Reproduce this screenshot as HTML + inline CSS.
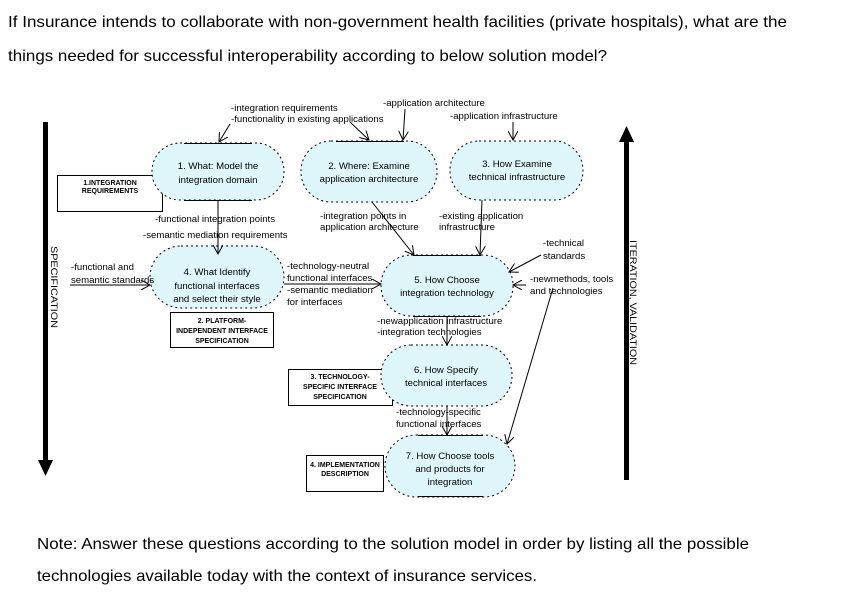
<!DOCTYPE html>
<html><head><meta charset="utf-8"><style>
html,body{margin:0;padding:0;background:#fff;}
svg{display:block;}
text{font-family:"Liberation Sans",Arial,sans-serif;fill:#000;}
.s{font-size:9.6px;}
.b{font-size:7px;font-weight:bold;}
.h{font-size:16px;}
</style></head><body>
<svg width="842" height="605" viewBox="0 0 842 605" xmlns="http://www.w3.org/2000/svg">
<defs>
<marker id="a" markerWidth="10" markerHeight="10" refX="9" refY="5" orient="auto" markerUnits="userSpaceOnUse">
<path d="M0,0 L9,5 L0,10" fill="none" stroke="#000" stroke-width="1"/></marker>
</defs>
<text class="h" x="8" y="27" textLength="779" lengthAdjust="spacingAndGlyphs">If Insurance intends to collaborate with non-government health facilities (private hospitals), what are the</text>
<text class="h" x="8" y="61" textLength="599" lengthAdjust="spacingAndGlyphs">things needed for successful interoperability according to below solution model?</text>
<text class="h" x="37" y="549" textLength="712" lengthAdjust="spacingAndGlyphs">Note: Answer these questions according to the solution model in order by listing all the possible</text>
<text class="h" x="37" y="581" textLength="500" lengthAdjust="spacingAndGlyphs">technologies available today with the context of insurance services.</text>

<rect x="43" y="122" width="5" height="340" fill="#000"/>
<path d="M38,460 L53,460 L45.5,476 Z" fill="#000"/>
<rect x="624" y="140" width="5" height="340" fill="#000"/>
<path d="M619,142 L634,142 L626.5,126 Z" fill="#000"/>
<text class="s" transform="translate(51,246) rotate(90)" textLength="82" lengthAdjust="spacingAndGlyphs">SPECIFICATION</text>
<text class="s" transform="translate(630,240) rotate(90)" textLength="125" lengthAdjust="spacingAndGlyphs">ITERATION, VALIDATION</text>

<g fill="#fff" stroke="#000" stroke-width="1">
<rect x="57.5" y="175.5" width="105" height="36"/>
<rect x="170.5" y="312.5" width="103" height="35"/>
<rect x="288.5" y="369.5" width="104" height="36"/>
<rect x="306.5" y="455.5" width="77" height="36"/>
</g>
<text class="b" x="110" y="185" text-anchor="middle">1.INTEGRATION</text>
<text class="b" x="110" y="193" text-anchor="middle">REQUIREMENTS</text>
<text class="b" x="222" y="323" text-anchor="middle">2. PLATFORM-</text>
<text class="b" x="222" y="333" text-anchor="middle">INDEPENDENT INTERFACE</text>
<text class="b" x="222" y="343" text-anchor="middle">SPECIFICATION</text>
<text class="b" x="340" y="379" text-anchor="middle">3. TECHNOLOGY-</text>
<text class="b" x="340" y="389" text-anchor="middle">SPECIFIC INTERFACE</text>
<text class="b" x="340" y="399" text-anchor="middle">SPECIFICATION</text>
<text class="b" x="345" y="467" text-anchor="middle">4. IMPLEMENTATION</text>
<text class="b" x="345" y="476" text-anchor="middle">DESCRIPTION</text>

<g fill="#dff6fa" stroke="#000" stroke-width="1" stroke-dasharray="2,3">
<rect x="152" y="143" width="132" height="57" rx="28"/>
<rect x="301" y="141" width="136" height="61" rx="30"/>
<rect x="450" y="141" width="133" height="59" rx="29"/>
<rect x="150" y="246" width="134" height="62" rx="31"/>
<rect x="381" y="255" width="132" height="61" rx="30"/>
<rect x="381" y="345" width="131" height="61" rx="30"/>
<rect x="385" y="435" width="130" height="62" rx="31"/>
</g>
<g stroke="#000" stroke-width="1">
<line x1="184" y1="143.5" x2="252" y2="143.5"/>
<line x1="336" y1="141.5" x2="404" y2="141.5"/>
<line x1="184" y1="200.5" x2="252" y2="200.5"/>
<line x1="413" y1="255.5" x2="481" y2="255.5"/>
<line x1="413" y1="316.5" x2="481" y2="316.5"/>
<line x1="418" y1="435.5" x2="483" y2="435.5"/>
<line x1="418" y1="496.5" x2="483" y2="496.5"/>
</g>
<g class="s" text-anchor="middle">
<text x="218" y="169">1. What: Model the</text><text x="218" y="183">integration domain</text>
<text x="369" y="169">2. Where: Examine</text><text x="369" y="182">application architecture</text>
<text x="517" y="167">3. How Examine</text><text x="517" y="180">technical infrastructure</text>
<text x="217" y="275">4. What Identify</text><text x="217" y="289">functional interfaces</text><text x="217" y="302">and select their style</text>
<text x="447" y="283">5. How Choose</text><text x="447" y="296">integration technology</text>
<text x="446" y="373">6. How Specify</text><text x="446" y="386">technical interfaces</text>
<text x="450" y="459">7. How Choose tools</text><text x="450" y="472">and products for</text><text x="450" y="485">integration</text>
</g>

<g stroke="#000" stroke-width="1" fill="none" marker-end="url(#a)">
<line x1="230" y1="124" x2="219" y2="142"/>
<line x1="350" y1="122" x2="369" y2="140"/>
<line x1="405" y1="109" x2="403" y2="140"/>
<line x1="513" y1="122" x2="513" y2="140"/>
<line x1="218" y1="201" x2="218" y2="254"/>
<line x1="70" y1="285" x2="150" y2="285"/>
<line x1="372" y1="202" x2="414" y2="255"/>
<line x1="482" y1="200" x2="480" y2="255"/>
<line x1="284" y1="284" x2="381" y2="284"/>
<line x1="541" y1="255" x2="509" y2="272"/>
<line x1="526" y1="285" x2="513" y2="285"/>
<line x1="447" y1="316" x2="447" y2="345"/>
<line x1="447" y1="406" x2="447" y2="435"/>
<line x1="553" y1="288" x2="507" y2="444"/>
</g>

<g class="s">
<text x="231" y="111">-integration requirements</text>
<text x="231" y="122">-functionality in existing applications</text>
<text x="383" y="106">-application architecture</text>
<text x="450" y="119">-application infrastructure</text>
<text x="155" y="222">-functional integration points</text>
<text x="143" y="238">-semantic mediation requirements</text>
<text x="320" y="219">-integration points in</text>
<text x="320" y="230">application architecture</text>
<text x="439" y="219">-existing application</text>
<text x="439" y="230">infrastructure</text>
<text x="543" y="246">-technical</text>
<text x="543" y="259">standards</text>
<text x="71" y="270">-functional and</text>
<text x="71" y="283">semantic standards</text>
<text x="287" y="269">-technology-neutral</text>
<text x="287" y="281">functional interfaces</text>
<text x="287" y="293">-semantic mediation</text>
<text x="287" y="305">for interfaces</text>
<text x="530" y="282">-newmethods, tools</text>
<text x="530" y="294">and technologies</text>
<text x="377" y="324">-newapplication infrastructure</text>
<text x="377" y="335">-integration technologies</text>
<text x="396" y="415">-technology-specific</text>
<text x="396" y="427">functional interfaces</text>
</g>
</svg>
</body></html>
